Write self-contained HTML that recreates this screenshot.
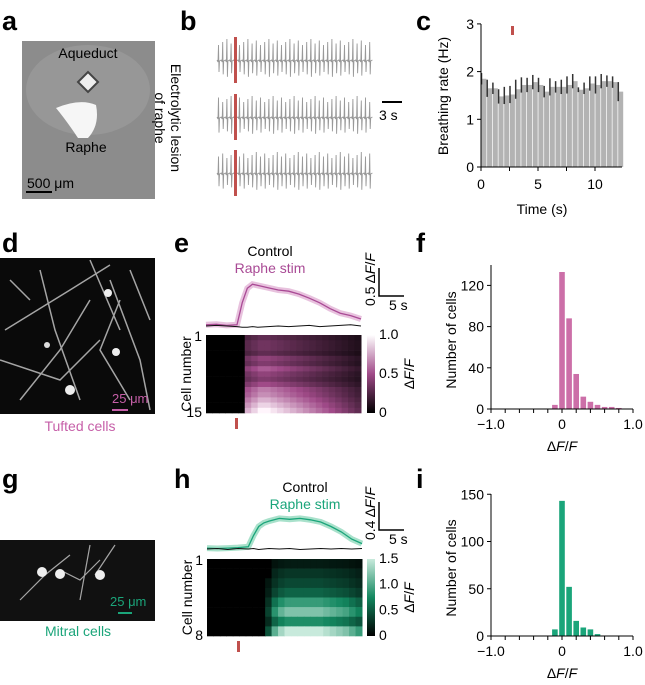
<!DOCTYPE html>
<html><head><meta charset="utf-8"><style>
body{margin:0;background:#fff;}
svg{display:block;font-family:"Liberation Sans",sans-serif;}
</style></head><body>
<svg id="fig" width="645" height="685" viewBox="0 0 645 685">
<defs>
<linearGradient id="pinkbar" x1="0" y1="1" x2="0" y2="0"><stop offset="0" stop-color="#000"/><stop offset="0.5" stop-color="#a04a88"/><stop offset="1" stop-color="#fff"/></linearGradient>
<linearGradient id="greenbar" x1="0" y1="1" x2="0" y2="0"><stop offset="0" stop-color="#000"/><stop offset="0.5" stop-color="#13875f"/><stop offset="1" stop-color="#c8eadc"/></linearGradient>
</defs>
<g font-family="Liberation Sans,sans-serif" font-weight="bold" font-size="27">
<text x="2" y="30">a</text>
<text x="180" y="30">b</text>
<text x="416" y="30">c</text>
<text x="2" y="252">d</text>
<text x="174" y="252">e</text>
<text x="416" y="252">f</text>
<text x="2" y="488">g</text>
<text x="174" y="488">h</text>
<text x="416" y="488">i</text>
</g>
<!-- panel a -->
<g>
<rect x="22" y="41" width="133" height="158" fill="#8c8c8c"/>
<ellipse cx="88" cy="90" rx="62" ry="45" fill="#979797"/>
<path d="M78 82 L88 72 L98 82 L88 92 Z" fill="#eee" stroke="#444" stroke-width="2"/>
<path d="M56 108 Q80 98 96 105 Q100 125 88 138 L78 138 Q66 120 56 108Z" fill="#f6f6f6"/>
<text x="88" y="58" font-size="14" text-anchor="middle">Aqueduct</text>
<text x="86" y="152" font-size="14" text-anchor="middle">Raphe</text>
<text x="27" y="188" font-size="14">500 μm</text>
<line x1="26" y1="192" x2="52" y2="192" stroke="#000" stroke-width="2"/>
</g>
<text transform="translate(171,118) rotate(90)" font-size="14" text-anchor="middle"><tspan x="0" y="0">Electrolytic lesion</tspan><tspan x="0" y="16">of raphe</tspan></text>
<!-- panel b -->
<g id="breath"></g>
<line x1="382" y1="102" x2="402" y2="102" stroke="#000" stroke-width="2"/>
<text x="379" y="120" font-size="14">3 s</text>
<!-- panel c -->
<g id="pc"></g>
<!-- panel d -->
<g>
<rect x="0" y="258" width="155" height="156" fill="#0a0a0a"/>
<g stroke="#ccc" stroke-width="1.5" fill="none" opacity="0.8">
<path d="M5 330 L70 290 L110 265"/><path d="M20 400 L60 350 L90 300"/><path d="M110 280 L140 360 L150 410"/><path d="M40 270 L55 330 L80 400"/><path d="M120 300 L100 350 L130 400"/><path d="M0 360 L60 380 L100 340"/><path d="M90 260 L120 330"/><path d="M130 270 L150 320"/><path d="M10 280 L30 300"/></g>
<circle cx="70" cy="390" r="5" fill="#eee"/><circle cx="108" cy="293" r="4" fill="#eee"/><circle cx="116" cy="352" r="4" fill="#eee"/><circle cx="47" cy="345" r="3" fill="#ddd"/>
<line x1="112" y1="410" x2="128" y2="410" stroke="#c65fa8" stroke-width="2"/>
<text x="112" y="403" font-size="13" fill="#c65fa8">25 μm</text>
</g>
<text x="80" y="431" font-size="14" fill="#c65fa8" text-anchor="middle">Tufted cells</text>
<!-- panel g -->
<g>
<rect x="0" y="540" width="155" height="81" fill="#111"/>
<g stroke="#ccc" stroke-width="1.2" fill="none" opacity="0.8"><path d="M20 600 L45 575 L70 555"/><path d="M90 545 L80 600"/><path d="M60 570 L80 580 L100 560"/><path d="M95 575 L115 545"/></g>
<circle cx="42" cy="572" r="5" fill="#eee"/><circle cx="60" cy="574" r="5" fill="#eee"/><circle cx="100" cy="575" r="5" fill="#eee"/>
<line x1="118" y1="613" x2="132" y2="613" stroke="#1ba57a" stroke-width="2"/>
<text x="110" y="606" font-size="13" fill="#1ba57a">25 μm</text>
</g>
<text x="78" y="636" font-size="14" fill="#1ba57a" text-anchor="middle">Mitral cells</text>
<g id="pe"></g>
<g id="ph"></g>
<g id="pf"></g>
<g id="pi"></g>
</svg>
<script>
const rateTimes=[0,0.5,1,1.5,2,2.5,3,3.5,4,4.5,5,5.5,6,6.5,7,7.5,8,8.5,9,9.5,10,10.5,11,11.5,12];
const rateValues=[1.85,1.65,1.65,1.48,1.5,1.52,1.63,1.72,1.72,1.78,1.72,1.58,1.68,1.68,1.68,1.72,1.8,1.62,1.65,1.75,1.72,1.8,1.8,1.78,1.58];
const rateErr=[0.12,0.18,0.12,0.15,0.18,0.18,0.2,0.16,0.15,0.15,0.15,0.12,0.18,0.12,0.15,0.18,0.15,0.05,0.12,0.15,0.18,0.15,0.12,0.12,0.2];
const rateYTicks=[0,1,2,3];
const rateXTicks=[0,5,10];
const binCenters=[-0.1,0,0.1,0.2,0.3,0.4,0.5,0.6,0.7,0.8];
const tuftedCounts=[4,133,88,34,12,7,4,2,2,1];
const mitralCounts=[7,143,52,16,9,7,2,0.5,0,0];
const tuftedYTicks=[0,40,80,120];
const mitralYTicks=[0,50,100,150];
const histXTicks=[-1.0,0,1.0];
const traceTimes=[-6,-4,-2,0,1,2,3,4,6,8,10,12,14,16,18,20,22,24];
const tuftedStim=[0.02,0.03,0.01,0.02,0.4,0.65,0.72,0.7,0.66,0.62,0.6,0.55,0.48,0.4,0.3,0.22,0.18,0.12];
const tuftedCtrl=[0,0.01,0,-0.01,-0.02,-0.02,-0.01,-0.02,-0.01,0,-0.01,0,0.01,-0.01,0,0.01,0.02,0];
const mitralTimes=[-6,-4,-2,0,2,3,4,5,6,8,10,12,14,16,18,20,22,24];
const mitralStim=[0.02,0.01,0.02,0.03,0.05,0.3,0.5,0.58,0.62,0.68,0.66,0.68,0.65,0.6,0.5,0.38,0.22,0.12];
const mitralCtrl=[0,0.01,-0.01,0.01,0,0.01,-0.01,0,0.01,0,0.01,-0.01,0,0.01,0,0.01,0,0.01];
const tuftedRowAmp=[0.3,0.35,0.35,0.3,0.45,0.4,0.55,0.45,0.4,0.5,0.65,0.7,0.8,0.9,1.0];
const mitralRowAmp=[0.15,0.3,0.4,0.55,0.9,1.2,0.8,1.5];
const tuftedProfile=[0,0,0,0,0,0,0.8,0.9,1,1,0.95,0.9,0.85,0.8,0.75,0.7,0.65,0.6,0.55,0.5,0.45,0.4,0.35,0.3];
const mitralProfile=[0,0,0,0,0,0,0,0,0,0.3,0.7,0.9,1,1,1,1,1,1,0.95,0.9,0.85,0.8,0.7,0.6];
const mitralOnset=[10,10,9,9,8,9,9,7];

const NS='http://www.w3.org/2000/svg';
function mk(parent,tag,attrs){const e=document.createElementNS(NS,tag);for(const k in attrs)e.setAttribute(k,attrs[k]);parent.appendChild(e);return e;}
function txt(parent,x,y,s,attrs){const t=mk(parent,'text',Object.assign({x:x,y:y,'font-size':14},attrs||{}));t.textContent=s;return t;}

(function(){const g=document.getElementById('breath');
 [60,117,173].forEach((cy,r)=>{let d='M217 '+cy;let x=217;let i=0;
  while(x<370){const a=15+((i*7+r*3)%5)*1.5;d+=` L${x+1} ${cy+2} L${x+1.5} ${cy-a} L${x+2} ${cy+a*0.8} L${x+2.5} ${cy+1} L${x+4.2} ${cy}`;x+=4.2;i++;}
  const p=mk(g,'path',{d:d,fill:'none',stroke:'#999','stroke-width':0.9});
  
  
  const m=mk(g,'rect',{x:234,y:cy-23,width:3,height:46,fill:'#c0504d'});
  
  
 });})();

(function(){const g=document.getElementById('pc');
 const x=v=>481+v*11.4, y=v=>167-v*47.7;
 rateTimes.forEach((t,i)=>{const b=mk(g,'rect',{x:x(t)+0.4,y:y(rateValues[i]),width:5,height:167-y(rateValues[i]),fill:'#b3b3b3'});
  
  
  mk(g,'line',{x1:x(t)+0.5,x2:x(t)+0.5,y1:y(rateValues[i]-rateErr[i]),y2:y(rateValues[i]+rateErr[i]),stroke:'#333','stroke-width':1.5});});
 mk(g,'line',{x1:481,y1:24,x2:481,y2:167,stroke:'#000'});
 mk(g,'line',{x1:481,y1:167,x2:622,y2:167,stroke:'#000'});
 rateYTicks.forEach(v=>{mk(g,'line',{x1:477,x2:481,y1:y(v),y2:y(v),stroke:'#000'});txt(g,474,y(v)+5,String(v),{'text-anchor':'end'});});
 for(let v=0;v<=12;v+=2.5){mk(g,'line',{x1:x(v),x2:x(v),y1:167,y2:171,stroke:'#000'});}
 rateXTicks.forEach(v=>txt(g,x(v),189,String(v),{'text-anchor':'middle'}));
 txt(g,542,214,'Time (s)',{'text-anchor':'middle'});
 txt(g,0,0,'Breathing rate (Hz)',{'text-anchor':'middle',transform:'translate(448,96) rotate(-90)'});
 const m=mk(g,'rect',{x:511,y:26,width:3,height:9,fill:'#c0504d'});
 
 
})();

function hist(id,counts,ticks,y0,yscale,color,top){const g=document.getElementById(id);
 const x=v=>562+v*71, y=v=>y0-v*yscale;
 binCenters.forEach((c,i)=>{if(counts[i]<=0)return;const b=mk(g,'rect',{x:x(c)-2.8,y:y(counts[i]),width:5.6,height:y0-y(counts[i]),fill:color});
  
  });
 mk(g,'line',{x1:491,y1:top,x2:491,y2:y0,stroke:'#000'});
 mk(g,'line',{x1:491,y1:y0,x2:633,y2:y0,stroke:'#000'});
 ticks.forEach(v=>{mk(g,'line',{x1:487,x2:491,y1:y(v),y2:y(v),stroke:'#000'});txt(g,484,y(v)+5,String(v),{'text-anchor':'end'});});
 for(let k=-5;k<=5;k++){mk(g,'line',{x1:x(k*0.2),x2:x(k*0.2),y1:y0,y2:y0+4,stroke:'#000'});}
 histXTicks.forEach(v=>txt(g,x(v),y0+20,v===0?'0':(v<0?'−1.0':'1.0'),{'text-anchor':'middle'}));
 const t=txt(g,562,y0+42,'',{'text-anchor':'middle'});t.innerHTML='Δ<tspan font-style="italic">F</tspan>/<tspan font-style="italic">F</tspan>';
 txt(g,0,0,'Number of cells',{'text-anchor':'middle',transform:`translate(456,${(top+y0)/2+3}) rotate(-90)`});
}
hist('pf',tuftedCounts,tuftedYTicks,409,1.03,'#cc6fa8',265);
hist('pi',mitralCounts,mitralYTicks,636,0.945,'#1aa57a',494);

function mix(c0,c1,c2,v){let a,b,t;if(v<0.5){a=c0;b=c1;t=v/0.5;}else{a=c1;b=c2;t=(v-0.5)/0.5;}t=Math.max(0,Math.min(1,t));return 'rgb('+a.map((q,i)=>Math.round(q+(b[i]-q)*t)).join(',')+')';}
function resp(id,o){const g=document.getElementById(id);
 const tx=t=>o.hx0+(t+6)*(o.hx1-o.hx0)/30, ty=v=>o.base-v*o.ys;
 const path=(ts,vs)=>ts.map((t,i)=>(i?'L':'M')+tx(t).toFixed(1)+' '+ty(vs[i]).toFixed(1)).join(' ');
 mk(g,'path',{d:path(o.times,o.stim),fill:'none',stroke:o.light,'stroke-width':6,opacity:0.6});
 const s=mk(g,'path',{d:path(o.times,o.stim),fill:'none',stroke:o.color,'stroke-width':1.3});
 
 
 const c=mk(g,'path',{d:path(o.times,o.ctrl),fill:'none',stroke:'#111','stroke-width':1});
 
 
 txt(g,o.lx,o.ly,'Control',{'text-anchor':'middle'});
 txt(g,o.lx,o.ly+17,'Raphe stim',{'text-anchor':'middle',fill:o.color});
 mk(g,'path',{d:`M${o.sbx} ${o.sby-28} L${o.sbx} ${o.sby} L${o.sbx+25} ${o.sby}`,fill:'none',stroke:'#000','stroke-width':1.5});
 txt(g,o.sbx+10,o.sby+14,'5 s');
 const st=txt(g,0,0,'',{transform:`translate(${o.sbx-4},${o.sby+10}) rotate(-90)`});st.innerHTML=o.sbv+' Δ<tspan font-style="italic">F</tspan>/<tspan font-style="italic">F</tspan>';
 const n=o.amp.length, rh=(o.hy1-o.hy0)/n, nc=o.profile.length, cw=(o.hx1-o.hx0)/nc;
 o.amp.forEach((a,r)=>o.profile.forEach((p,k)=>{let v=a*p;if(o.onset&&k<o.onset[r])v=0;
  const cell=mk(g,'rect',{x:(o.hx0+k*cw).toFixed(2),y:(o.hy0+r*rh).toFixed(2),width:(cw+0.5).toFixed(2),height:(rh+0.3).toFixed(2),fill:mix([0,0,0],o.mid,o.hi,v/o.vmax)});
  
  }));
 txt(g,o.hx0-4,o.hy0+6,'1',{'text-anchor':'end'});
 txt(g,o.hx0-4,o.hy1+4,String(n),{'text-anchor':'end'});
 txt(g,0,0,'Cell number',{'text-anchor':'middle',transform:`translate(${o.hx0-15},${(o.hy0+o.hy1)/2}) rotate(-90)`});
 mk(g,'rect',{x:367,y:o.hy0,width:8,height:o.hy1-o.hy0,fill:o.grad});
 o.cbLabels.forEach((l,i)=>txt(g,379,o.hy1+4-i*(o.hy1-o.hy0)/(o.cbLabels.length-1),l));
 const cb=txt(g,0,0,'',{'text-anchor':'middle',transform:`translate(${o.cbt},${(o.hy0+o.hy1)/2}) rotate(-90)`});cb.innerHTML='Δ<tspan font-style="italic">F</tspan>/<tspan font-style="italic">F</tspan>';
 const m=mk(g,'rect',{x:o.mx,y:o.hy1+5,width:3,height:11,fill:'#c0504d'});
 
 
}
resp('pe',{times:traceTimes,stim:tuftedStim,ctrl:tuftedCtrl,hx0:206,hx1:361,base:326,ys:58,color:'#a94a95',light:'#d89ac8',
 lx:270,ly:256,sbx:379,sby:296,sbv:'0.5',amp:tuftedRowAmp,profile:tuftedProfile,hy0:335,hy1:413,mid:[160,74,136],hi:[255,245,252],vmax:1.0,
 grad:'url(#pinkbar)',cbLabels:['0','0.5','1.0'],cbt:414,mx:235});
resp('ph',{times:mitralTimes,stim:mitralStim,ctrl:mitralCtrl,hx0:207,hx1:362,base:549,ys:45,color:'#1aa57a',light:'#6fcda9',
 lx:305,ly:492,sbx:379,sby:530,sbv:'0.4',amp:mitralRowAmp,profile:mitralProfile,onset:mitralOnset,hy0:559,hy1:636,mid:[19,135,95],hi:[200,234,220],vmax:1.5,
 grad:'url(#greenbar)',cbLabels:['0','0.5','1.0','1.5'],cbt:414,mx:237});
</script>
</body></html>
